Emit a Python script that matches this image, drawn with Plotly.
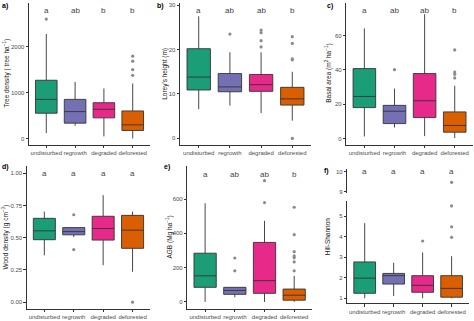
import plotly.graph_objects as go

W, H = 474, 321
cats = ["undisturbed", "regrowth", "degraded", "deforested"]
colors = ["#1B9E77", "#7570B3", "#E7298A", "#D95F02"]

# a) Tree density
a_lo = [123, 281, 50, 6]
a_q1 = [555, 339, 454, 179]
a_med = [857, 590, 641, 302]
a_q3 = [1274, 857, 784, 605]
a_hi = [2283, 1238, 1095, 1203]
a_out = [[2607], [], [], [1800, 1691, 1504, 1381]]
a_letters = ["a", "ab", "b", "b"]

# b) Lorey's height
b_lo = [6.6, 7.4, 5.7, 4.0]
b_q1 = [10.9, 10.5, 10.6, 7.5]
b_med = [13.8, 11.6, 12.1, 8.9]
b_q3 = [20.2, 14.6, 14.4, 11.5]
b_hi = [27.5, 19.4, 19.4, 15.0]
b_out = [[], [23.5], [24.4, 23.8, 22.0, 20.6], [22.9, 21.4, 17.9, 17.7, 0.0]]
b_letters = ["a", "ab", "ab", "b"]

# c) Basal area
c_lo = [1.3, 6.5, 1.5, 0.4]
c_q1 = [18.1, 8.8, 12.3, 3.8]
c_med = [24.6, 16.0, 22.1, 7.7]
c_q3 = [40.8, 19.4, 37.9, 15.6]
c_hi = [64.2, 29.2, 72.5, 30.8]
c_out = [[], [40.2], [], [51.7, 38.8, 37.5, 35.4]]
c_letters = ["a", "ab", "ab", "b"]

# d) Wood density
d_lo = [0.364, 0.505, 0.287, 0.236]
d_q1 = [0.485, 0.523, 0.482, 0.418]
d_med = [0.554, 0.548, 0.572, 0.559]
d_q3 = [0.651, 0.579, 0.667, 0.674]
d_hi = [0.703, 0.579, 0.831, 0.703]
d_out = [[], [0.679, 0.408], [], [0.0]]
d_letters = ["a", "a", "a", "a"]

# e) AGB
e_lo = [0, 27, 0, 0]
e_q1 = [85, 44, 50, 10]
e_med = [152, 67, 124, 39]
e_q3 = [284, 85, 347, 75]
e_hi = [575, 85, 473, 152]
e_out = [[], [256, 181], [707, 579], [552, 392, 293, 268, 257, 233, 181]]
e_letters = ["a", "ab", "ab", "b"]

# f) Hill-Shannon
f_lo = [1.0, 1.11, 1.0, 1.0]
f_q1 = [1.24, 1.69, 1.29, 1.05]
f_med = [1.98, 2.10, 1.63, 1.48]
f_q3 = [2.77, 2.21, 2.10, 2.10]
f_hi = [4.66, 2.73, 3.23, 3.05]
f_out = [[], [], [3.79], [3.97, 4.48, 5.5, 9.48]]
f_letters = ["a", "a", "a", "a"]

FONT = "Liberation Sans, Arial, sans-serif"

def px_x(p):
    return p / W

def px_y(p):
    return 1 - p / H

panels = [
    dict(id=1, lo=a_lo, q1=a_q1, med=a_med, q3=a_q3, hi=a_hi, out=a_out, letters=a_letters, ly=2800,
         xd=(29, 150), yd=(2, 145), yr=[-130, 2959], tv=[0, 1000, 2000],
         title="Tree density ( tree ha<sup>−1</sup>)", tx=7, label="a)", lx=0, lyp=5),
    dict(id=2, lo=b_lo, q1=b_q1, med=b_med, q3=b_q3, hi=b_hi, out=b_out, letters=b_letters, ly=28.9,
         xd=(180, 311), yd=(2, 145), yr=[-1.41, 30.5], tv=[0, 10, 20, 30],
         title="Lorey's height (m)", tx=165, label="b)", lx=155, lyp=5),
    dict(id=3, lo=c_lo, q1=c_q1, med=c_med, q3=c_q3, hi=c_hi, out=c_out, letters=c_letters, ly=74.4,
         xd=(346.3, 472.8), yd=(2, 145), yr=[-3.46, 79.0], tv=[0, 20, 40, 60],
         title="Basal area (m<sup>2</sup> ha<sup>−1</sup>)", tx=329, label="c)", lx=325, lyp=5),
    dict(id=4, lo=d_lo, q1=d_q1, med=d_med, q3=d_q3, hi=d_hi, out=d_out, letters=d_letters, ly=1.0,
         xd=(26.7, 150.2), yd=(167, 310.5), yr=[-0.05, 1.054], tv=[0, 0.25, 0.5, 0.75, 1.0],
         tt=["0.00", "0.25", "0.50", "0.75", "1.00"],
         title="Wood density (g cm<sup>−3</sup>)", tx=6, label="d)", lx=0, lyp=168),
    dict(id=5, lo=e_lo, q1=e_q1, med=e_med, q3=e_q3, hi=e_hi, out=e_out, letters=e_letters, ly=745,
         xd=(187.3, 312), yd=(167, 310.5), yr=[-39, 790], tv=[0, 200, 400, 600],
         title="AGB (Mg ha<sup>−1</sup>)", tx=170, label="e)", lx=162, lyp=168),
    dict(id=6, lo=f_lo, q1=f_q1, med=f_med, q3=f_q3, hi=f_hi, out=f_out, letters=None, ly=None,
         xd=(347.3, 469), yd=(201.7, 305), yr=[0.76, 5.75], tv=[1, 2, 3, 4, 5],
         title="Hill-Shannon", tx=327, label="f)", lx=322, lyp=172),
]

fig = go.Figure()
annotations = []
layout = {}

tickfont = dict(family=FONT, size=6, color="#4D4D4D")
axis_common = dict(showline=True, linecolor="#333333", linewidth=0.8, ticks="outside",
                   ticklen=2.5, tickwidth=0.7, tickcolor="#333333", showgrid=False,
                   zeroline=False, tickfont=tickfont, tickangle=0)

for p in panels:
    i = p["id"]
    xs = "x" if i == 1 else f"x{i}"
    ys = "y" if i == 1 else f"y{i}"
    for k, c in enumerate(cats):
        fig.add_trace(go.Box(
            x=[c], q1=[p["q1"][k]], median=[p["med"][k]], q3=[p["q3"][k]],
            lowerfence=[p["lo"][k]], upperfence=[p["hi"][k]],
            fillcolor=colors[k], line=dict(color="#333333", width=0.9),
            whiskerwidth=0, width=0.75, boxpoints=False, hoverinfo="skip",
            xaxis=xs, yaxis=ys, showlegend=False))
        if p["out"][k]:
            fig.add_trace(go.Scatter(
                x=[c] * len(p["out"][k]), y=p["out"][k], mode="markers",
                marker=dict(color="#8A8A8A", size=3.2), xaxis=xs, yaxis=ys,
                showlegend=False, hoverinfo="skip"))
            if i == 6:
                fig.add_trace(go.Scatter(
                    x=[c] * len(p["out"][k]), y=p["out"][k], mode="markers",
                    marker=dict(color="#8A8A8A", size=3.2), xaxis=xs, yaxis="y7",
                    showlegend=False, hoverinfo="skip"))
    xa = dict(axis_common, domain=[px_x(p["xd"][0]), px_x(p["xd"][1])], anchor=ys,
              type="category", categoryorder="array", categoryarray=cats, range=[-0.6, 3.6])
    ya = dict(axis_common, domain=[px_y(p["yd"][1]), px_y(p["yd"][0])], anchor=xs,
              range=p["yr"], tickvals=p["tv"])
    if "tt" in p:
        ya["ticktext"] = p["tt"]
    layout["xaxis" if i == 1 else f"xaxis{i}"] = xa
    layout["yaxis" if i == 1 else f"yaxis{i}"] = ya

    if p["letters"]:
        for k, c in enumerate(cats):
            annotations.append(dict(x=c, y=p["ly"], xref=xs, yref=ys, text=p["letters"][k],
                                    showarrow=False, font=dict(family=FONT, size=8, color="#444444")))
    # axis title
    ymid = (p["yd"][0] + p["yd"][1]) / 2 if i != 6 else (170 + 305) / 2
    annotations.append(dict(x=px_x(p["tx"]), y=px_y(ymid), xref="paper", yref="paper",
                            text=p["title"], textangle=-90, showarrow=False,
                            xanchor="center", yanchor="middle",
                            font=dict(family=FONT, size=6.5, color="#222222")))
    annotations.append(dict(x=px_x(p["lx"]), y=px_y(p["lyp"]), xref="paper", yref="paper",
                            text=f"<b>{p['label']}</b>", showarrow=False,
                            xanchor="left", yanchor="middle",
                            font=dict(family=FONT, size=7, color="#000000")))

# f) upper broken-axis segment
layout["yaxis7"] = dict(axis_common, domain=[px_y(194), px_y(170)], anchor="x6",
                        range=[8.93, 10.13], tickvals=[9, 10])
for k, c in enumerate(cats):
    annotations.append(dict(x=c, y=10, xref="x6", yref="y7", text=f_letters[k],
                            showarrow=False, font=dict(family=FONT, size=8, color="#444444")))

fig.update_layout(**layout)
fig.update_layout(width=W, height=H, margin=dict(l=0, r=0, t=0, b=0),
                  plot_bgcolor="white", paper_bgcolor="white", showlegend=False,
                  boxmode="overlay", annotations=annotations, font=dict(family=FONT))

fig.write_html("out.html")
